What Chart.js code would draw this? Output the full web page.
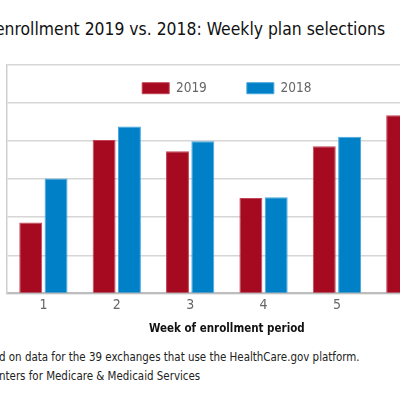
<!DOCTYPE html>
<html>
<head>
<meta charset="utf-8">
<script src="https://cdn.jsdelivr.net/npm/chart.js@4"></script>
<style>
    html, body { margin: 0; padding: 0; background: #fff; }
    body { width: 400px; height: 400px; overflow: hidden; position: relative;
           font-family: "DejaVu Sans Condensed", "Liberation Sans", sans-serif; }
    #title { position: absolute; left: -5px; top: 18px; font-size: 18px; color: #111; white-space: nowrap;
             transform: scaleX(0.965); transform-origin: left top; }
    #wrap { position: absolute; left: 0; top: 56px; width: 454px; height: 280px; }
    .note { position: absolute; left: -1px; font-size: 12.5px; color: #222; white-space: nowrap;
            transform: scaleX(0.915); transform-origin: left top; }
</style>
</head>
<body>
<div id="title">enrollment 2019 vs. 2018: Weekly plan selections</div>
<div id="wrap"><canvas id="planChart" width="454" height="280"></canvas></div>
<div class="note" style="top:349px">d on data for the 39 exchanges that use the HealthCare.gov platform.</div>
<div class="note" style="top:368px">nters for Medicare &amp; Medicaid Services</div>
<script>
// Semana de inscrição e seleções de planos
const weeks = ['1', '2', '3', '4', '5', '6'];
const selections2019 = [372000, 804000, 746000, 500000, 772000, 934000];
// 2018, semana 6: fora do recorte visível
const selections2018 = [602000, 876000, 798000, 504000, 822000, null];
const yTicks = [0, 200000, 400000, 600000, 800000, 1000000, 1200000];

const narrow = '"DejaVu Sans Condensed", "Liberation Sans", sans-serif';

// legenda em cima (altura quase zero), depois movida para dentro da área do gráfico
const legendShift = {
    id: 'legendShift',
    afterLayout(chart) {
        const lg = chart.legend;
        if (lg) {
            lg.top = chart.chartArea.top - 23.15;
            lg.bottom = lg.top + 80;
            lg.height = 80;
        }
    }
};

document.addEventListener('DOMContentLoaded', function() {
    new Chart(document.getElementById('planChart'), {
        type: 'bar',
        data: {
            labels: weeks,
            datasets: [{
                label: '2019',
                data: selections2019,
                backgroundColor: '#A50A20',
                borderColor: '#C24456',
                borderWidth: 1,
                categoryPercentage: 0.69,
                barPercentage: 0.906
            }, {
                label: '2018',
                data: selections2018,
                backgroundColor: '#0080C6',
                borderColor: '#45A6DD',
                borderWidth: 1,
                categoryPercentage: 0.69,
                barPercentage: 0.906
            }]
        },
        options: {
            responsive: false,
            animation: false,
            layout: { padding: { left: 6.7, right: 7, top: 8.6, bottom: 0 } },
            plugins: {
                legend: {
                    position: 'top',
                    align: 'center',
                    maxHeight: 0.01,
                    labels: {
                        boxWidth: 27,
                        boxHeight: 11,
                        padding: 40,
                        color: '#666',
                        font: { family: narrow, size: 13.5 }
                    }
                },
                tooltip: { enabled: false }
            },
            scales: {
                x: {
                    grid: { display: false, drawTicks: false },
                    border: { display: true, color: '#bdbdbd', width: 2 },
                    ticks: { color: '#666', padding: 4, font: { family: narrow, size: 14 } },
                    title: {
                        display: true,
                        text: 'Week of enrollment period',
                        color: '#111',
                        padding: { top: 4, bottom: 0 },
                        font: { family: narrow, size: 11.5, weight: 'bold' }
                    }
                },
                y: {
                    min: 0,
                    max: 1200000,
                    afterBuildTicks(axis) {
                        axis.ticks = yTicks.map(v => ({ value: v }));
                    },
                    grid: { color: '#d6d6d6', lineWidth: 1.5, drawTicks: false },
                    border: { display: true, color: '#cfcfcf', width: 1.5 },
                    ticks: { display: false }
                }
            }
        },
        plugins: [legendShift]
    });
});
</script>
</body>
</html>
